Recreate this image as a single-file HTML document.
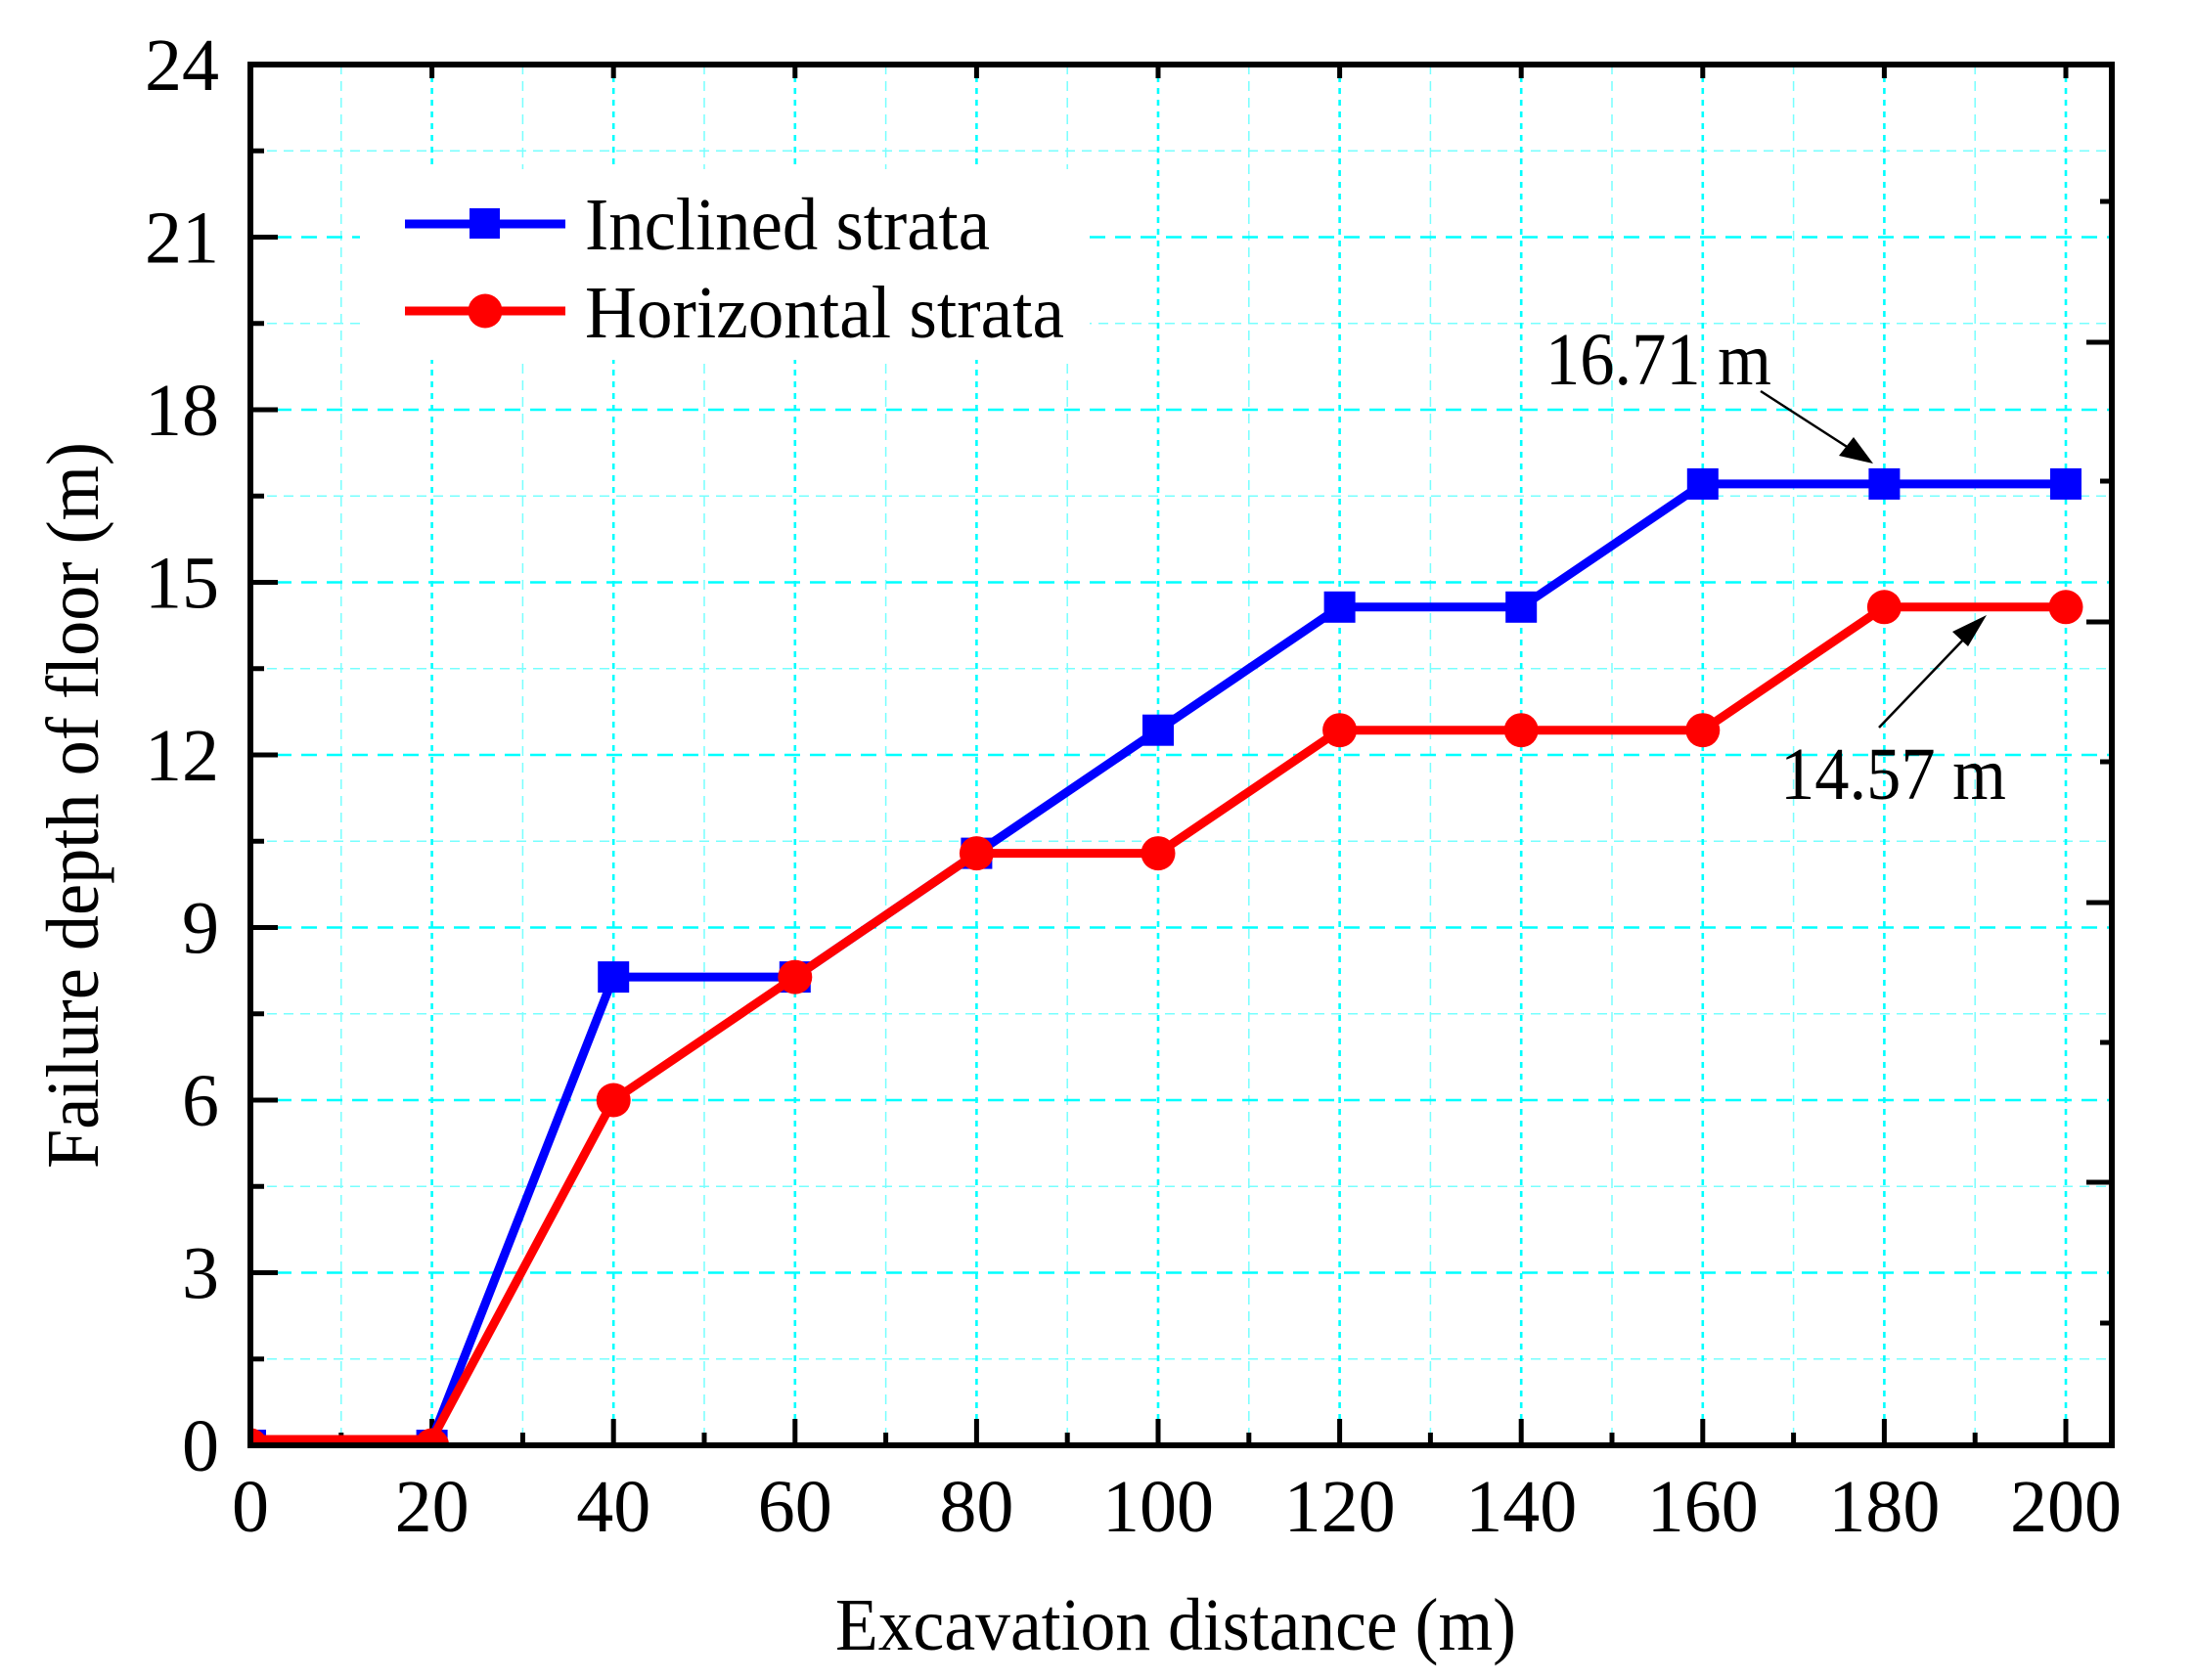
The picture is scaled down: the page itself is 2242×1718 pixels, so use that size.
<!DOCTYPE html>
<html><head><meta charset="utf-8"><style>html,body{margin:0;padding:0;background:#fff}svg{display:block}</style></head>
<body>
<svg width="2242" height="1718" viewBox="0 0 2242 1718" xmlns="http://www.w3.org/2000/svg" font-family="'Liberation Serif', serif">
<defs><clipPath id="pc"><rect x="259" y="69" width="1897" height="1406"/></clipPath></defs>
<rect width="2242" height="1718" fill="#fff"/>
<g stroke="#7ff" stroke-width="1.5" stroke-dasharray="10,7" fill="none">
<path d="M348.8 66V1478M534.4 66V1478M720 66V1478M905.6 66V1478M1091.2 66V1478M1276.8 66V1478M1462.4 66V1478M1648 66V1478M1833.6 66V1478M2019.2 66V1478"/>
<path d="M256 1389.8H2159M256 1213.3H2159M256 1036.8H2159M256 860.3H2159M256 683.8H2159M256 507.3H2159M256 330.8H2159M256 154.3H2159"/>
</g>
<g stroke="#0ff" stroke-width="2.6" fill="none">
<path stroke-dasharray="6,6" d="M441.6 66V1478M627.2 66V1478M812.8 66V1478M998.4 66V1478M1184 66V1478M1369.6 66V1478M1555.2 66V1478M1740.8 66V1478M1926.4 66V1478M2112 66V1478"/>
<path stroke-dasharray="16,10" d="M256 1301.5H2159M256 1125H2159M256 948.5H2159M256 772H2159M256 595.5H2159M256 419H2159M256 242.5H2159"/>
</g>
<rect x="368" y="173" width="746" height="195" fill="#fff"/>
<g stroke="#000" stroke-width="5" fill="none">
<path d="M441.6 1478v-27M627.2 1478v-27M812.8 1478v-27M998.4 1478v-27M1184 1478v-27M1369.6 1478v-27M1555.2 1478v-27M1740.8 1478v-27M1926.4 1478v-27M2112 1478v-27"/>
<path d="M348.8 1478v-13M534.4 1478v-13M720 1478v-13M905.6 1478v-13M1091.2 1478v-13M1276.8 1478v-13M1462.4 1478v-13M1648 1478v-13M1833.6 1478v-13M2019.2 1478v-13"/>
<path d="M441.6 66v14M627.2 66v14M812.8 66v14M998.4 66v14M1184 66v14M1369.6 66v14M1555.2 66v14M1740.8 66v14M1926.4 66v14M2112 66v14"/>
<path d="M256 1301.5h28M256 1125h28M256 948.5h28M256 772h28M256 595.5h28M256 419h28M256 242.5h28"/>
<path d="M256 1389.8h14M256 1213.3h14M256 1036.8h14M256 860.3h14M256 683.8h14M256 507.3h14M256 330.8h14M256 154.3h14"/>
<path d="M2159 350h-26M2159 636h-26M2159 923h-26M2159 1209h-26"/>
<path d="M2159 206h-12M2159 492h-12M2159 779h-12M2159 1066h-12M2159 1353h-12"/>
</g>
<g clip-path="url(#pc)">
<polyline fill="none" stroke="#00f" stroke-width="9" points="256,1472 441.6,1472 627.2,999.1 812.8,999.1 998.4,872.6 1184,746.7 1369.6,620.8 1555.2,620.8 1740.8,494.9 1926.4,494.9 2112,494.9"/>
<g fill="#00f">
<rect x="240" y="1462" width="32" height="32"/><rect x="425.6" y="1462" width="32" height="32"/><rect x="611.2" y="983.1" width="32" height="32"/><rect x="796.8" y="983.1" width="32" height="32"/><rect x="982.4" y="856.6" width="32" height="32"/><rect x="1168" y="730.7" width="32" height="32"/><rect x="1353.6" y="604.8" width="32" height="32"/><rect x="1539.2" y="604.8" width="32" height="32"/><rect x="1724.8" y="478.9" width="32" height="32"/><rect x="1910.4" y="478.9" width="32" height="32"/><rect x="2096" y="478.9" width="32" height="32"/>
</g>
<polyline fill="none" stroke="#f00" stroke-width="9" points="256,1472 441.6,1472 627.2,1125 812.8,999.1 998.4,872.6 1184,872.6 1369.6,746.7 1555.2,746.7 1740.8,746.7 1926.4,620.8 2112,620.8"/>
<g fill="#f00">
<circle cx="256" cy="1478" r="17.5"/><circle cx="441.6" cy="1478" r="17.5"/><circle cx="627.2" cy="1125" r="17.5"/><circle cx="812.8" cy="999.1" r="17.5"/><circle cx="998.4" cy="872.6" r="17.5"/><circle cx="1184" cy="872.6" r="17.5"/><circle cx="1369.6" cy="746.7" r="17.5"/><circle cx="1555.2" cy="746.7" r="17.5"/><circle cx="1740.8" cy="746.7" r="17.5"/><circle cx="1926.4" cy="620.8" r="17.5"/><circle cx="2112" cy="620.8" r="17.5"/>
</g>
</g>
<rect x="256" y="66" width="1903" height="1412" fill="none" stroke="#000" stroke-width="6"/>
<path d="M414 229H578" stroke="#00f" stroke-width="9"/>
<rect x="480" y="213" width="31" height="31" fill="#00f"/>
<path d="M414 318H578" stroke="#f00" stroke-width="9"/>
<circle cx="496" cy="318" r="17.5" fill="#f00"/>
<g font-size="76" fill="#000">
<text x="598" y="255" textLength="414" lengthAdjust="spacingAndGlyphs">Inclined strata</text>
<text x="598" y="345" textLength="490" lengthAdjust="spacingAndGlyphs">Horizontal strata</text>
<g text-anchor="end">
<text x="224" y="1504">0</text><text x="224" y="1327.5">3</text><text x="224" y="1151">6</text><text x="224" y="974.5">9</text><text x="224" y="798">12</text><text x="224" y="621.5">15</text><text x="224" y="445">18</text><text x="224" y="268.5">21</text><text x="224" y="92">24</text>
</g>
<g text-anchor="middle">
<text x="256" y="1566">0</text><text x="441.6" y="1566">20</text><text x="627.2" y="1566">40</text><text x="812.8" y="1566">60</text><text x="998.4" y="1566">80</text><text x="1184" y="1566">100</text><text x="1369.6" y="1566">120</text><text x="1555.2" y="1566">140</text><text x="1740.8" y="1566">160</text><text x="1926.4" y="1566">180</text><text x="2112" y="1566">200</text>
</g>
<text x="854" y="1687" textLength="696" lengthAdjust="spacingAndGlyphs">Excavation distance (m)</text>
<text transform="translate(100,1195) rotate(-90)" textLength="743" lengthAdjust="spacingAndGlyphs">Failure depth of floor (m)</text>
<text x="1580" y="393" textLength="231" lengthAdjust="spacingAndGlyphs">16.71 m</text>
<text x="1820" y="817" textLength="231" lengthAdjust="spacingAndGlyphs">14.57 m</text>
</g>
<path d="M1800 400L1893 460" stroke="#000" stroke-width="2.5"/>
<polygon points="1915,474 1880,466 1895,447" fill="#000"/>
<path d="M1921 744L2013 648" stroke="#000" stroke-width="2.5"/>
<polygon points="2031,629 2012,661 1996,646" fill="#000"/>
</svg>
</body></html>
